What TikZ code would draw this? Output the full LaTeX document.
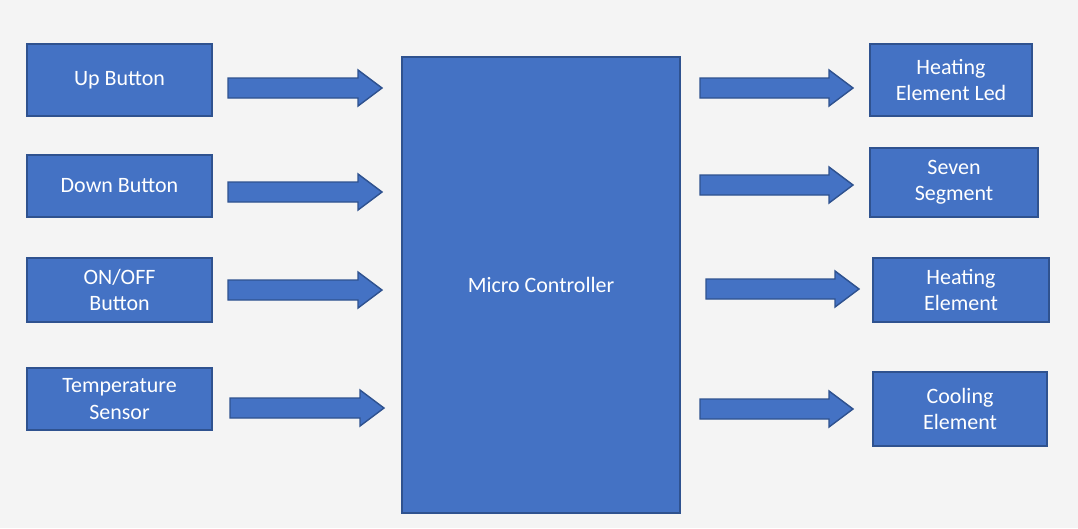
\documentclass[tikz,border=0pt]{standalone}
\usepackage{fontspec}
\setmainfont{Carlito}
\definecolor{bfill}{HTML}{4472C4}
\definecolor{bdraw}{HTML}{2F528F}
\definecolor{bg}{HTML}{F4F4F4}
\begin{document}
\begin{tikzpicture}[x=0.02cm,y=-0.02cm,
  blk/.style={fill=bfill,draw=bdraw,line width=0.8pt,text=white,font=\fontsize{12.5}{15}\selectfont,align=center,inner sep=0pt}]
\fill[bg] (0,0) rectangle (1078,528);
\useasboundingbox (0,0) rectangle (1078,528);
\newcommand{\bx}[6]{\draw[blk] (#2,#3) rectangle (#4,#5) node[midway,text=white,font=\fontsize{12.5}{15}\selectfont,align=center] (#1) {#6};}
\bx{up}{27}{44}{212}{116}{Up Button}
\bx{down}{27}{155}{212}{217}{Down Button}
\bx{onoff}{27}{258}{212}{322}{ON/OFF\\Button}
\bx{temp}{27}{368}{212}{430}{Temperature\\Sensor}
\bx{mc}{402}{57}{680}{513}{Micro Controller}
\bx{hel}{870}{44}{1032}{116}{Heating\\Element Led}
\bx{seg}{870}{148}{1038}{217}{Seven\\Segment}
\bx{he}{873}{258}{1049}{322}{Heating\\Element}
\bx{ce}{873}{372}{1047}{446}{Cooling\\Element}
\foreach \a/\b/\y in {228/382/88, 228/382/192, 228/382/290, 230/384/408, 700/853/88, 700/853/185, 706/859/289, 700/853/409}{
  \draw[blk] (\a,\y-10) -- (\b-24,\y-10) -- (\b-24,\y-18) -- (\b,\y) -- (\b-24,\y+18) -- (\b-24,\y+10) -- (\a,\y+10) -- cycle;
}
\end{tikzpicture}
\end{document}
